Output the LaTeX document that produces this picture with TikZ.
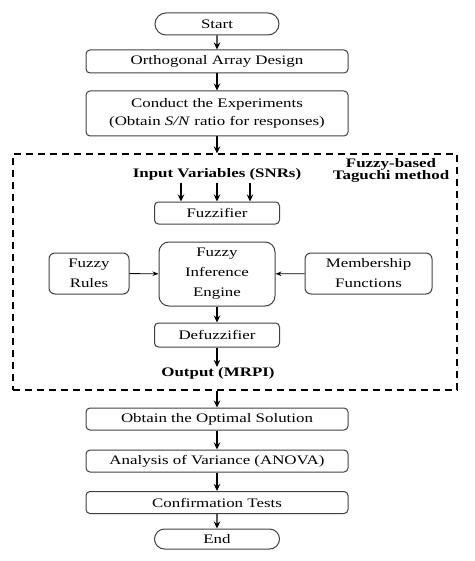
\documentclass[tikz,border=0pt]{standalone}
\usepackage{fontspec}
\setmainfont{Liberation Serif}[FakeStretch=1.3]
\usetikzlibrary{arrows.meta,shapes.misc,calc}
\begin{document}
\begin{tikzpicture}[x=1pt,y=-1pt,
  font=\fontsize{13}{18}\selectfont,
  box/.style={draw=black!75, line width=1pt, rounded corners=4pt, inner sep=0pt, align=center},
  pill/.style={draw=black!75, line width=1pt, rounded rectangle, inner sep=0pt},
  arr/.style={line width=1.3pt, -{Stealth[length=7pt,width=6.5pt]}},
  sarr/.style={line width=0.9pt, -{Stealth[length=6pt,width=4.5pt]}},
  lbl/.style={font=\bfseries\fontsize{13}{12}\selectfont, align=center, inner sep=0pt},
  tall/.style={font=\fontsize{13}{20}\selectfont}]
\useasboundingbox (0,0) rectangle (474,561);

\node[pill, minimum width=124pt, minimum height=22pt] (start) at (217,24) {Start};
\node[box, minimum width=262pt, minimum height=23pt] (ortho) at (217,61.5) {Orthogonal Array Design};
\node[box, minimum width=262pt, minimum height=45pt] (conduct) at (217,113.5) {Conduct the Experiments\\(Obtain \textit{S/N} ratio for responses)};

\node[draw=black, line width=1.1pt, dash pattern=on 7pt off 5pt, minimum width=444pt, minimum height=236pt, inner sep=0pt] (fbox) at (235,272) {};
\node[lbl] (fbl) at (391,170) {Fuzzy-based\\Taguchi method};
\node[lbl] (inp) at (217,174) {Input Variables (SNRs)};
\node[box, minimum width=125pt, minimum height=22pt] (fuzz) at (217,213) {Fuzzifier};
\node[box, tall, rounded corners=10pt, minimum width=116pt, minimum height=64pt] (eng) at (217,274) {Fuzzy\\Inference\\Engine};
\node[box, tall, rounded corners=6pt, minimum width=80pt, minimum height=41pt] (rules) at (89,273.5) {Fuzzy\\Rules};
\node[box, tall, rounded corners=6pt, minimum width=127pt, minimum height=41pt] (mem) at (368.5,273.5) {Membership\\Functions};
\node[box, minimum width=125pt, minimum height=24pt] (defuzz) at (217,335) {Defuzzifier};
\node[lbl] (out) at (218,373) {Output (MRPI)};

\node[box, minimum width=262pt, minimum height=22pt] (opt) at (217,419) {Obtain the Optimal Solution};
\node[box, minimum width=262pt, minimum height=22pt] (anova) at (217,461) {Analysis of Variance (ANOVA)};
\node[box, minimum width=262pt, minimum height=22pt] (conf) at (217,502.5) {Confirmation Tests};
\node[pill, minimum width=125pt, minimum height=20pt] (end) at (217,539) {End};

\draw[arr] (start) -- (ortho);
\draw[arr] (ortho) -- (conduct);
\draw[arr] (conduct) -- (conduct |- fbox.north);

\coordinate (i1) at ($(inp.south)+(-36,3)$);
\coordinate (i2) at ($(inp.south)+(0,3)$);
\coordinate (i3) at ($(inp.south)+(33,3)$);
\draw[arr] (i1) -- (i1 |- fuzz.north);
\draw[arr] (i2) -- (i2 |- fuzz.north);
\draw[arr] (i3) -- (i3 |- fuzz.north);

\draw[sarr] (rules) -- (eng);
\draw[sarr] (mem) -- (eng);
\draw[arr] (eng) -- (defuzz);
\draw[arr] (defuzz) -- (defuzz |- out.north);

\draw[arr] (opt |- fbox.south) -- (opt);
\draw[arr] (opt) -- (anova);
\draw[arr] (anova) -- (conf);
\draw[arr] (conf) -- (end);
\end{tikzpicture}
\end{document}
